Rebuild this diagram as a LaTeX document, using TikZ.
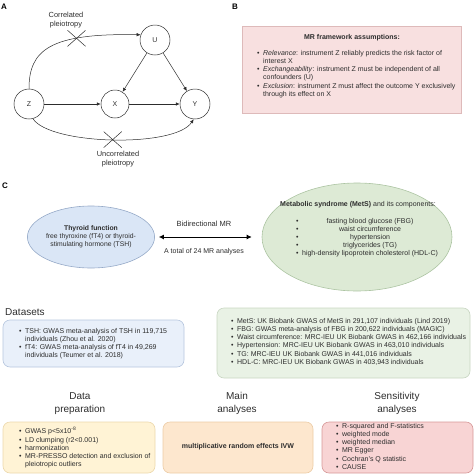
\documentclass[tikz,border=0pt]{standalone}
\usepackage{fontspec}
\setmainfont{Liberation Sans}
\usepackage{xcolor}
\definecolor{txtGray}{RGB}{45,45,45}
\definecolor{mrFill}{RGB}{248,224,224}
\definecolor{mrLine}{RGB}{222,186,186}
\definecolor{thyFill}{RGB}{218,230,246}
\definecolor{thyLine}{RGB}{150,170,200}
\definecolor{metsFill}{RGB}{221,234,213}
\definecolor{metsLine}{RGB}{172,196,162}
\definecolor{dsBlueFill}{RGB}{233,240,250}
\definecolor{dsBlueLine}{RGB}{182,198,222}
\definecolor{dsGreenFill}{RGB}{233,242,229}
\definecolor{dsGreenLine}{RGB}{200,214,194}
\definecolor{prepFill}{RGB}{255,243,213}
\definecolor{prepLine}{RGB}{236,216,172}
\definecolor{mainFill}{RGB}{253,231,206}
\definecolor{mainLine}{RGB}{236,204,166}
\definecolor{sensFill}{RGB}{248,212,212}
\definecolor{sensLine}{RGB}{214,152,152}
\usepackage{tikz}
\usetikzlibrary{shapes.geometric,arrows.meta}
\newcommand{\bodyfont}{\fontsize{7}{8.3}\selectfont}
\newcommand{\headfont}{\fontsize{10}{13}\selectfont}
\newcommand{\blist}[1]{\begin{tabular}{@{}l@{\hspace{3.5pt}}l@{}}#1\end{tabular}}

\begin{document}
\begin{tikzpicture}[x=1pt, y=-1pt, every node/.style={text=txtGray, font=\bodyfont},
  panel/.style={font=\bfseries\fontsize{8}{8}\selectfont, text=black},
  circ/.style={circle, draw=txtGray, line width=0.5pt, minimum size=30pt, inner sep=0pt},
  arr/.style={-{Latex[length=4pt,width=3.5pt]}, draw=txtGray, line width=0.5pt},
  cross/.style={draw=txtGray, line width=0.5pt},
  listbox/.style={rounded corners=7pt, line width=0.6pt, inner sep=0pt},
  heading/.style={font=\headfont, align=center}]
\useasboundingbox (0,0) rectangle (474,474);

\node[panel] (pa) at (4,7) {A};
\node[panel] (pb) at (235,7) {B};
\node[panel] (pc) at (5,186) {C};

\node[circ] (z) at (29,104) {Z};
\node[circ, minimum size=28pt] (x) at (115,104) {X};
\node[circ] (y) at (195,104) {Y};
\node[circ] (u) at (155,40) {U};
\draw[arr] (z) -- (x);
\draw[arr] (x) -- (y);
\draw[arr] (u) -- (x);
\draw[arr] (u) -- (y);
\draw[arr] (z.north) .. controls (29,50) and (50,33) .. (u.160) coordinate[pos=0.7] (corrx);
\draw[arr] (z.-75) .. controls (50,145) and (175,148) .. (y.-95) coordinate[pos=0.5] (uncorrx);
\draw[cross] (corrx) ++(-9,-8) -- ++(18,16) (corrx) ++(-9,8) -- ++(18,-16);
\draw[cross] (uncorrx) ++(-9,-8) -- ++(18,16) (uncorrx) ++(-9,8) -- ++(18,-16);
\node[align=center, font=\fontsize{7.4}{9}\selectfont] (corr) at (66,20) {Correlated\\pleiotropy};
\node[align=center, font=\fontsize{7.4}{9}\selectfont] (uncorr) at (118,159) {Uncorrelated\\pleiotropy};

\node[draw=mrLine, fill=mrFill, line width=0.6pt, minimum width=219pt, minimum height=87pt] (mrbox) at (351.5,69.5) {};
\node (mrtitle) at (352,38) {\textbf{MR framework assumptions:}};
\node[anchor=north west, inner sep=0pt] (mrlist) at (257,49) {\blist{
  \textbullet & \textit{Relevance}: instrument Z reliably predicts the risk factor of\\
  & interest X\\
  \textbullet & \textit{Exchangeability}: instrument Z must be independent of all\\
  & confounders (U)\\
  \textbullet & \textit{Exclusion}: instrument Z must affect the outcome Y exclusively\\
  & through its effect on X}};

\node[ellipse, draw=thyLine, fill=thyFill, line width=0.6pt, minimum width=118pt, minimum height=62pt, inner sep=0pt, align=center, font=\fontsize{6.8}{8}\selectfont] (thyroid) at (91,237)
  {\textbf{Thyroid function}\\free thyroxine (fT4) or thyroid-\\stimulating hormone (TSH)};
\node[ellipse, draw=metsLine, fill=metsFill, line width=0.6pt, minimum width=190pt, minimum height=108pt, inner sep=0pt] (mets) at (357,237) {};
\node[font=\fontsize{7}{8}\selectfont] (metstitle) at (358,205) {\textbf{Metabolic syndrome (MetS)} and its components:};
\node[anchor=north west, inner sep=0pt, font=\fontsize{7}{8}\selectfont] (metslist) at (296,218) {\begin{tabular}{@{}l@{\hspace{3.5pt}}c@{}}
  \textbullet & fasting blood glucose (FBG)\\
  \textbullet & waist circumference\\
  \textbullet & hypertension\\
  \textbullet & triglycerides (TG)\\
  \textbullet & high-density lipoprotein cholesterol (HDL-C)\end{tabular}};
\draw[{Latex[length=5pt,width=5pt]}-{Latex[length=5pt,width=5pt]}, draw=black, line width=0.8pt, shorten <=4pt, shorten >=10pt] (thyroid) -- (mets);
\node[font=\fontsize{7.5}{8}\selectfont] (bidir) at (204,224) {Bidirectional MR};
\node[font=\fontsize{7}{8}\selectfont] (total) at (204,252) {A total of 24 MR analyses};

\node[font=\headfont, anchor=west, inner sep=0pt] (datasets) at (5,312) {Datasets};
\node[listbox, draw=dsBlueLine, fill=dsBlueFill, minimum width=181pt, minimum height=47pt] (tshbox) at (93.5,343.5) {};
\node[anchor=north west, inner sep=0pt] (tshlist) at (19,327) {\blist{
  \textbullet & TSH: GWAS meta-analysis of TSH in 119,715\\
  & individuals (Zhou et al. 2020)\\
  \textbullet & fT4: GWAS meta-analysis of fT4 in 49,269\\
  & individuals (Teumer et al. 2018)}};
\node[listbox, draw=dsGreenLine, fill=dsGreenFill, minimum width=253pt, minimum height=70pt] (metsbox) at (343.5,343) {};
\node[anchor=north west, inner sep=0pt] (metsdata) at (231,317) {\blist{
  \textbullet & MetS: UK Biobank GWAS of MetS in 291,107 individuals (Lind 2019)\\
  \textbullet & FBG: GWAS meta-analysis of FBG in 200,622 individuals (MAGIC)\\
  \textbullet & Waist circumference: MRC-IEU UK Biobank GWAS in 462,166 individuals\\
  \textbullet & Hypertension: MRC-IEU UK Biobank GWAS in 463,010 individuals\\
  \textbullet & TG: MRC-IEU UK Biobank GWAS in 441,016 individuals\\
  \textbullet & HDL-C: MRC-IEU UK Biobank GWAS in 403,943 individuals}};

\node[heading] (prep) at (80,403.5) {Data\\preparation};
\node[heading] (main) at (237,403.5) {Main\\analyses};
\node[heading] (sens) at (397,403.5) {Sensitivity\\analyses};
\node[listbox, draw=prepLine, fill=prepFill, minimum width=152pt, minimum height=51pt] (prepbox) at (79,447.5) {};
\node[listbox, draw=mainLine, fill=mainFill, minimum width=150pt, minimum height=51pt] (mainbox) at (238,447.5) {};
\node[listbox, draw=sensLine, fill=sensFill, minimum width=151pt, minimum height=51pt] (sensbox) at (397.5,447.5) {};
\node[anchor=north west, inner sep=0pt] (preplist) at (19,427) {\blist{
  \textbullet & GWAS p<5x10\textsuperscript{-8}\\
  \textbullet & LD clumping (r2<0.001)\\
  \textbullet & harmonization\\
  \textbullet & MR-PRESSO detection and exclusion of\\
  & pleiotropic outliers}};
\node (mainivw) at (238,447) {\textbf{multiplicative random effects IVW}};
\node[anchor=north west, inner sep=0pt] (senslist) at (336,422) {\blist{
  \textbullet & R-squared and F-statistics\\
  \textbullet & weighted mode\\
  \textbullet & weighted median\\
  \textbullet & MR Egger\\
  \textbullet & Cochran's Q statistic\\
  \textbullet & CAUSE}};
\end{tikzpicture}
\end{document}
